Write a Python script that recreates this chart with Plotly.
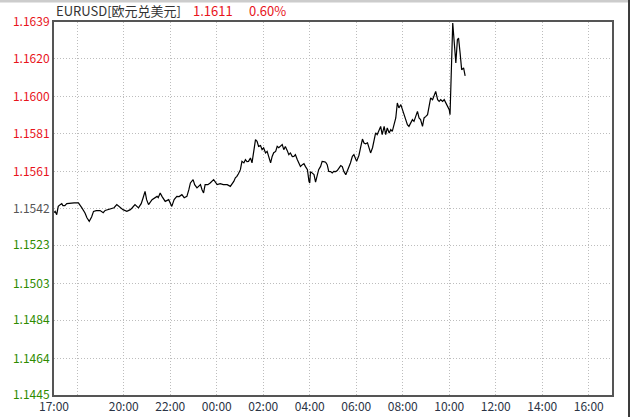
import pandas as pd
import plotly.graph_objects as go

# ---- data ----
session_start = "2025-07-01 17:00"
minutes_since_open = [
    0, 3, 7, 11, 16, 20, 23, 28, 33, 41, 52, 63, 67, 72, 80, 85, 91, 97, 102, 109,
    119, 127, 132, 140, 149, 155, 162, 171, 178, 188, 197, 202, 209, 218, 225, 230, 235, 239, 244, 253,
    259, 266, 269, 274, 279, 287, 296, 304, 310, 317, 323, 330, 336, 343, 348, 352, 359, 363, 369, 378,
    382, 386, 390, 397, 403, 412, 421, 429, 437, 447, 455, 464, 468, 472, 476, 481, 485, 490, 494, 498,
    502, 507, 511, 515, 520, 524, 528, 533, 537, 541, 546, 550, 554, 559, 563, 567, 572, 576, 580, 584,
    589, 593, 597, 602, 606, 610, 615, 619, 623, 628, 632, 636, 641, 645, 649, 654, 658, 660, 662, 666,
    671, 675, 679, 683, 688, 692, 696, 701, 705, 709, 714, 718, 722, 727, 731, 735, 740, 744, 748, 753,
    757, 761, 765, 770, 774, 781, 787, 791, 796, 800, 804, 809, 813, 817, 822, 826, 830, 834, 839, 843,
    847, 852, 856, 860, 865, 869, 873, 877, 882, 886, 890, 895, 899, 903, 908, 912, 916, 921, 925, 929,
    934, 938, 942, 946, 951, 955, 959, 964, 968, 972, 977, 981, 985, 990, 994, 998, 1003, 1007, 1011, 1016,
    1020, 1022, 1024, 1027, 1029, 1032, 1034, 1037, 1041, 1044, 1048, 1052, 1057, 1061,
]
price = [
    1.15398, 1.15405, 1.15388, 1.15431, 1.15440, 1.15445, 1.15435, 1.15435, 1.15445, 1.15448,
    1.15449, 1.15449, 1.15440, 1.15423, 1.15397, 1.15372, 1.15353, 1.15376, 1.15405, 1.15409,
    1.15409, 1.15398, 1.15410, 1.15414, 1.15418, 1.15424, 1.15440, 1.15423, 1.15414, 1.15405,
    1.15414, 1.15424, 1.15440, 1.15423, 1.15445, 1.15476, 1.15509, 1.15466, 1.15440, 1.15466,
    1.15476, 1.15483, 1.15476, 1.15501, 1.15482, 1.15457, 1.15466, 1.15431, 1.15466, 1.15483,
    1.15482, 1.15492, 1.15476, 1.15483, 1.15518, 1.15553, 1.15570, 1.15544, 1.15527, 1.15544,
    1.15518, 1.15501, 1.15544, 1.15544, 1.15553, 1.15570, 1.15544, 1.15549, 1.15544, 1.15544,
    1.15535, 1.15561, 1.15580, 1.15587, 1.15601, 1.15622, 1.15665, 1.15657, 1.15674, 1.15664,
    1.15665, 1.15683, 1.15657, 1.15709, 1.15778, 1.15769, 1.15743, 1.15747, 1.15726, 1.15735,
    1.15709, 1.15717, 1.15684, 1.15657, 1.15691, 1.15710, 1.15717, 1.15743, 1.15736, 1.15743,
    1.15752, 1.15726, 1.15743, 1.15721, 1.15700, 1.15709, 1.15690, 1.15691, 1.15700, 1.15674,
    1.15657, 1.15639, 1.15648, 1.15653, 1.15638, 1.15622, 1.15561, 1.15553, 1.15612, 1.15605,
    1.15596, 1.15557, 1.15587, 1.15622, 1.15639, 1.15665, 1.15664, 1.15661, 1.15648, 1.15613,
    1.15612, 1.15605, 1.15613, 1.15612, 1.15617, 1.15632, 1.15643, 1.15638, 1.15613, 1.15596,
    1.15617, 1.15631, 1.15657, 1.15691, 1.15700, 1.15665, 1.15697, 1.15735, 1.15781, 1.15761,
    1.15757, 1.15762, 1.15736, 1.15709, 1.15736, 1.15769, 1.15813, 1.15804, 1.15830, 1.15847,
    1.15804, 1.15847, 1.15804, 1.15839, 1.15813, 1.15830, 1.15821, 1.15847, 1.15891, 1.15969,
    1.15943, 1.15960, 1.15934, 1.15917, 1.15882, 1.15856, 1.15847, 1.15865, 1.15882, 1.15873,
    1.15908, 1.15925, 1.15891, 1.15882, 1.15847, 1.15891, 1.15898, 1.15908, 1.15951, 1.15995,
    1.15986, 1.16003, 1.16029, 1.15986, 1.15977, 1.15986, 1.15977, 1.15986, 1.15969, 1.15951,
    1.15934, 1.15908, 1.16125, 1.16246, 1.16385, 1.16298, 1.16237, 1.16177, 1.16298, 1.16307,
    1.16229, 1.16142, 1.16151, 1.16110,
]

symbol_label = "EURUSD[欧元兑美元]"
last_price_label = "1.1611"
change_label = "0.60%"
prev_close = 1.1542

y_ticks = [1.1639, 1.1620, 1.1600, 1.1581, 1.1561, 1.1542, 1.1523, 1.1503, 1.1484, 1.1464, 1.1445]
y_range = [1.1445, 1.1639]

x_tick_hours = [0, 1, 3, 5, 7, 9, 11, 13, 15, 17, 19, 21, 23]
x_tick_labels = ["17:00", "", "20:00", "22:00", "00:00", "02:00", "04:00",
                 "06:00", "08:00", "10:00", "12:00", "14:00", "16:00"]

# ---- build ----
t0 = pd.Timestamp(session_start)
times = [t0 + pd.Timedelta(minutes=m) for m in minutes_since_open]
tick_times = [t0 + pd.Timedelta(hours=h) for h in x_tick_hours]
x_end = t0 + pd.Timedelta(hours=24)

RED = "#e8141b"
GREEN = "#2e8b00"
GRAY = "#555555"


def y_label(v):
    c = RED if v > prev_close + 1e-9 else (GREEN if v < prev_close - 1e-9 else GRAY)
    return f"<span style='color:{c}'>{v:.4f}</span>"


fig = go.Figure()
fig.add_trace(go.Scatter(
    x=times, y=price, mode="lines",
    line=dict(color="#000000", width=1.2),
    hoverinfo="x+y", showlegend=False,
))

FONT = "Noto Sans CJK SC"
GRID_DASH = "1px,2px"

fig.update_layout(
    width=630, height=417,
    margin=dict(l=54, r=18, t=22, b=22, autoexpand=False),
    paper_bgcolor="#ffffff", plot_bgcolor="#ffffff",
    font=dict(family=FONT, size=12, color="#333333"),
    xaxis=dict(
        range=[t0, x_end],
        tickmode="array", tickvals=tick_times, ticktext=x_tick_labels,
        showgrid=True, gridcolor="#bdbdbd", griddash=GRID_DASH, gridwidth=1,
        showline=True, linecolor="#555555", linewidth=2, mirror=True,
        ticks="", zeroline=False,
        tickfont=dict(family=FONT, size=12, color="#2b3445"),
        automargin=False,
    ),
    yaxis=dict(
        range=y_range,
        tickmode="array", tickvals=y_ticks, ticktext=[y_label(v) for v in y_ticks],
        showgrid=True, gridcolor="#bdbdbd", griddash=GRID_DASH, gridwidth=1,
        showline=True, linecolor="#555555", linewidth=2, mirror=True,
        ticks="", zeroline=False,
        tickfont=dict(family=FONT, size=12),
        automargin=False,
    ),
    annotations=[
        dict(xref="paper", yref="paper", x=0, y=1, xanchor="left", yanchor="bottom",
             yshift=0, text=symbol_label, showarrow=False,
             font=dict(family=FONT, size=13, color="#333333")),
        dict(xref="paper", yref="paper", x=0.2455, y=1, xanchor="left", yanchor="bottom",
             yshift=0, text=last_price_label, showarrow=False,
             font=dict(family=FONT, size=13, color=RED)),
        dict(xref="paper", yref="paper", x=0.346, y=1, xanchor="left", yanchor="bottom",
             yshift=0, text=change_label, showarrow=False,
             font=dict(family=FONT, size=13, color=RED)),
    ],
    shapes=[
        dict(type="line", xref="paper", yref="paper", x0=-0.1, x1=1.04, y0=1.0565, y1=1.0565,
             line=dict(color="#cccccc", width=3)),
        dict(type="line", xref="paper", yref="paper", x0=1.0305, x1=1.0305, y0=-0.06, y1=1.06,
             line=dict(color="#3a3a3a", width=2)),
    ],
)

fig.write_html("out.html", config={"displayModeBar": False},
               post_script="document.body.style.margin='0';")
